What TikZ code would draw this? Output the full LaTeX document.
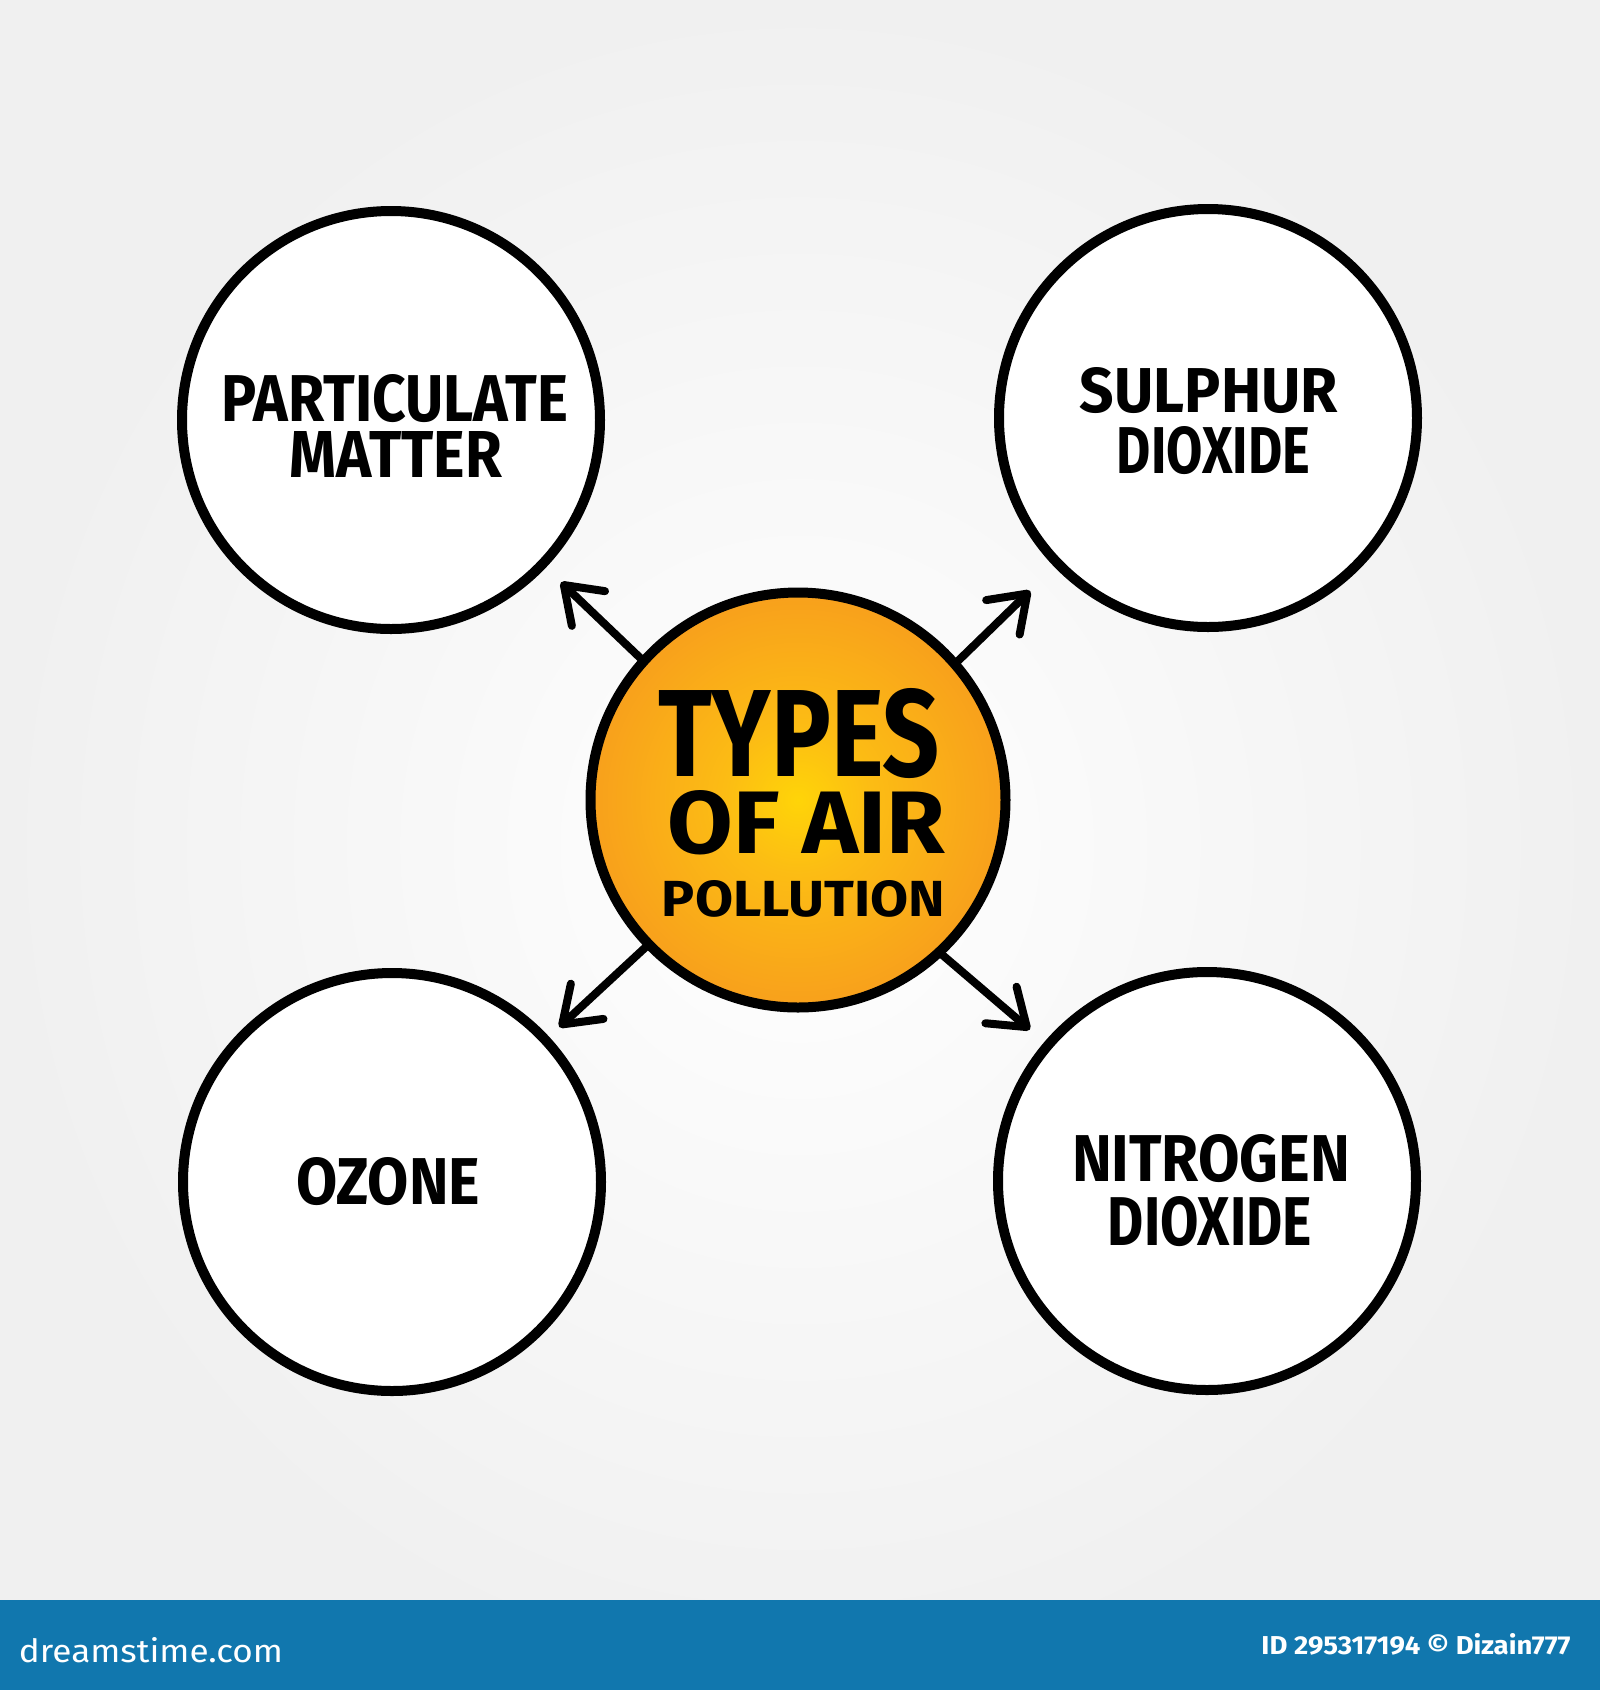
\documentclass[tikz,border=0pt]{standalone}
\usepackage{fontspec}
\usepackage{graphicx}
\setmainfont{Fira Sans}
\usetikzlibrary{arrows.meta}
\definecolor{bgedge}{RGB}{240,240,240}
\definecolor{barblue}{RGB}{17,119,174}
\definecolor{cyel}{RGB}{255,212,8}
\definecolor{cmid}{RGB}{252,188,20}
\definecolor{corg}{RGB}{248,160,28}
\pgfdeclareradialshading{sunball}{\pgfpoint{0bp}{0bp}}{color(0bp)=(cyel); color(9bp)=(cmid); color(25bp)=(corg); color(50bp)=(corg)}
\newcommand\fitline[3]{\resizebox{#1pt}{#2pt}{#3}}
\begin{document}
\begin{tikzpicture}[x=1pt,y=-1pt,
  bubble/.style={circle,draw=black,line width=10pt,fill=white,minimum size=418pt,inner sep=0pt},
  hub/.style={circle,draw=black,line width=10pt,shade,shading=sunball,minimum size=415pt,inner sep=0pt},
  lbl/.style={inner sep=0pt,font=\bfseries},
  arr/.style={line width=8pt,line cap=round,-{Straight Barb[length=34pt,width=48pt,round]}},
  foot/.style={inner sep=0pt,text=white}]
\useasboundingbox (0,0) rectangle (1600,1690);
\shade[inner color=white,outer color=bgedge] (0,0) rectangle (1600,1690);
\fill[barblue] (0,1600) rectangle (1600,1690);

% circles
\node[bubble] (pm) at (391,420) {};
\node[bubble] (sd) at (1208,418) {};
\node[bubble] (oz) at (392,1182) {};
\node[bubble] (nd) at (1207,1181) {};
\node[hub] (c) at (798,800) {};

% arrows
\draw[arr, shorten >=21pt] (c.138) -- (pm);
\draw[arr, shorten >=34pt] (c.41) -- (sd);
\draw[arr, shorten >=14pt] (c.224) -- (oz);
\draw[arr, shorten >=19pt] (c.313) -- (nd);

% labels
\node[lbl] (pm1) at (395,399) {\fitline{346}{47}{PARTICULATE}};
\node[lbl] (pm2) at (396,454) {\fitline{212}{46}{MATTER}};
\node[lbl] (sd1) at (1209,390.5) {\fitline{258}{45}{SULPHUR}};
\node[lbl] (sd2) at (1213.5,451) {\fitline{193}{47}{DIOXIDE}};
\node[lbl] (oz1) at (388.5,1181.5) {\fitline{183}{47}{OZONE}};
\node[lbl] (nd1) at (1211,1159) {\fitline{278}{47}{NITROGEN}};
\node[lbl] (nd2) at (1210,1222) {\fitline{204}{49}{DIOXIDE}};
\node[lbl] (c1) at (799,734) {\fitline{282}{88}{TYPES}};
\node[lbl] (c2) at (806.5,823) {\fitline{277}{63}{OF AIR}};
\node[lbl] (c3) at (803.5,899) {\fitline{283}{36}{POLLUTION}};

% footer
\node[foot] (dt) at (151,1650.5) {\fitline{264}{25}{dreamstime.com}};
\node[foot,font=\bfseries] (id) at (1416,1644) {\fitline{309}{21}{ID 295317194 © Dizain777}};
\end{tikzpicture}
\end{document}
